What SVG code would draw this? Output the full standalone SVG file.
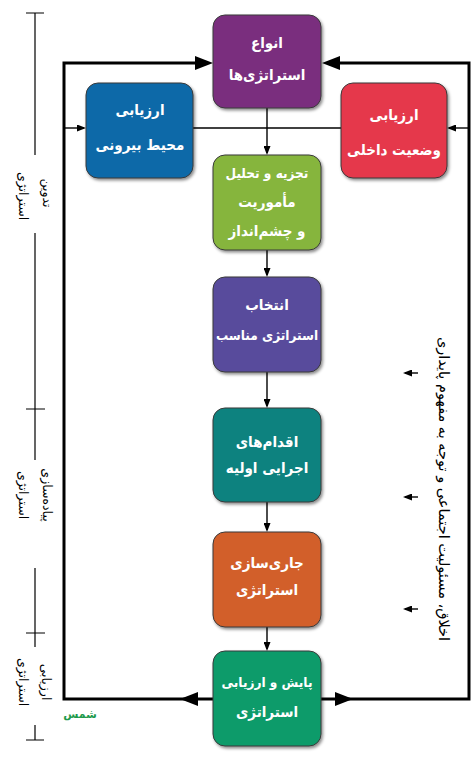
<svg xmlns="http://www.w3.org/2000/svg" width="474" height="764" viewBox="0 0 474 764">
<defs>
<style>
.box{stroke:#3a3a3a;stroke-width:1;filter:url(#sh)}
.t{font-family:"DejaVu Sans Condensed","DejaVu Sans","Noto Sans",sans-serif;font-weight:bold;font-size:15px;fill:#fff;text-anchor:middle;direction:rtl}
.tn{font-size:13.5px}
.lbl{font-family:"DejaVu Sans","Noto Sans",sans-serif;font-size:12.5px;fill:#000;text-anchor:middle;direction:rtl;dominant-baseline:central}
.thick{fill:none;stroke:#000;stroke-width:3}
.thin{fill:none;stroke:#000;stroke-width:1.4}
.sc{fill:none;stroke:#000;stroke-width:1.2}
</style>
<filter id="sh" x="-20%" y="-20%" width="140%" height="140%">
<feDropShadow dx="1.5" dy="2" stdDeviation="1.5" flood-color="#000" flood-opacity="0.45"/>
</filter>
<marker id="big" markerUnits="userSpaceOnUse" markerWidth="18" markerHeight="14" viewBox="0 0 18 14" refX="12" refY="7" orient="auto">
<path d="M0,0 L18,7 L0,14 z" fill="#000"/>
</marker>
<marker id="sm" markerUnits="userSpaceOnUse" markerWidth="9" markerHeight="7" viewBox="0 0 9 7" refX="7" refY="3.5" orient="auto">
<path d="M0,0 L9,3.5 L0,7 z" fill="#000"/>
</marker>
</defs>
<rect width="474" height="764" fill="#fff"/>

<g id="scale">
<path class="sc" d="M35 13 V155 M35 233 V460 M35 568 V647 M35 725 V740"/>
<path class="sc" d="M26 13 H44 M26 409 H45 M26 633 H45 M26 740 H44"/>
<g transform="translate(47,193) rotate(90)"><text class="lbl" x="0" y="0">تدوین</text></g>
<g transform="translate(23,196) rotate(90)"><text class="lbl" x="0" y="0">استراتژی</text></g>
<g transform="translate(47,495) rotate(90)"><text class="lbl" x="0" y="0">پیاده&#x200C;سازی</text></g>
<g transform="translate(23,495) rotate(90)"><text class="lbl" x="0" y="0">استراتژی</text></g>
<g transform="translate(46,682) rotate(90)"><text class="lbl" x="0" y="0">ارزیابی</text></g>
<g transform="translate(23,682) rotate(90)"><text class="lbl" x="0" y="0">استراتژی</text></g>
</g>

<g id="connectors">
<path class="thick" d="M213 699 H186" marker-end="url(#big)"/>
<path class="thick" d="M186 699 H64 V63 H207" marker-end="url(#big)"/>
<path class="thick" d="M321 699 H347" marker-end="url(#big)"/>
<path class="thick" d="M347 699 H469 V63 H328" marker-end="url(#big)"/>
<path class="thin" d="M193 128 H341"/>
<path class="thin" d="M64 128 H84" marker-end="url(#sm)"/>
<path class="thin" d="M469 128 H449" marker-end="url(#sm)"/>
<path class="thin" d="M267 108 V153" marker-end="url(#sm)"/>
<path class="thin" d="M267 250 V275" marker-end="url(#sm)"/>
<path class="thin" d="M267 372 V406" marker-end="url(#sm)"/>
<path class="thin" d="M267 502 V530" marker-end="url(#sm)"/>
<path class="thin" d="M267 627 V649" marker-end="url(#sm)"/>
<path class="thin" d="M418 373 H405" marker-end="url(#sm)"/>
<path class="thin" d="M418 497 H405" marker-end="url(#sm)"/>
<path class="thin" d="M418 609 H405" marker-end="url(#sm)"/>
</g>

<g id="n-types">
<rect class="box" x="213" y="15" width="108" height="93" rx="12" fill="#7A2E7E"/>
<text class="t" x="267" y="48">انواع</text>
<text class="t" x="267" y="80">استراتژی&#x200C;ها</text>
</g>
<g id="n-external">
<rect class="box" x="86" y="83" width="107" height="95" rx="12" fill="#0D69A8"/>
<text class="t" x="140" y="115">ارزیابی</text>
<text class="t" x="140" y="150">محیط بیرونی</text>
</g>
<g id="n-internal">
<rect class="box" x="341" y="83" width="106" height="95" rx="12" fill="#E5384B"/>
<text class="t" x="394" y="120">ارزیابی</text>
<text class="t" x="394" y="155">وضعیت داخلی</text>
</g>
<g id="n-mission">
<rect class="box" x="213" y="155" width="108" height="95" rx="12" fill="#86B53C"/>
<text class="t tn" x="267" y="178">تجزیه و تحلیل</text>
<text class="t" x="267" y="207">مأموریت</text>
<text class="t" x="267" y="236">و چشم&#x200C;انداز</text>
</g>
<g id="n-select">
<rect class="box" x="213" y="277" width="108" height="95" rx="12" fill="#584C9C"/>
<text class="t" x="267" y="310">انتخاب</text>
<text class="t tn" x="267" y="340">استراتژی مناسب</text>
</g>
<g id="n-actions">
<rect class="box" x="213" y="408" width="108" height="94" rx="12" fill="#0C827F"/>
<text class="t" x="267" y="447">اقدام&#x200C;های</text>
<text class="t" x="267" y="473">اجرایی اولیه</text>
</g>
<g id="n-implement">
<rect class="box" x="213" y="532" width="108" height="95" rx="12" fill="#D25F2A"/>
<text class="t" x="267" y="568">جاری&#x200C;سازی</text>
<text class="t" x="267" y="595">استراتژی</text>
</g>
<g id="n-monitor">
<rect class="box" x="213" y="651" width="108" height="95" rx="12" fill="#0E9B6B"/>
<text class="t tn" x="267" y="687">پایش و ارزیابی</text>
<text class="t" x="267" y="717">استراتژی</text>
</g>

<g id="side-label" transform="translate(444,489) rotate(90)">
<text class="lbl" x="0" y="0" style="font-size:14.5px">اخلاق، مسئولیت اجتماعی و توجه به مفهوم پایداری</text>
</g>
<text x="80" y="718" style="font-family:'DejaVu Sans',sans-serif;font-weight:bold;font-size:11px;fill:#1E9A4C;text-anchor:middle;direction:rtl">شمس</text>
</svg>
